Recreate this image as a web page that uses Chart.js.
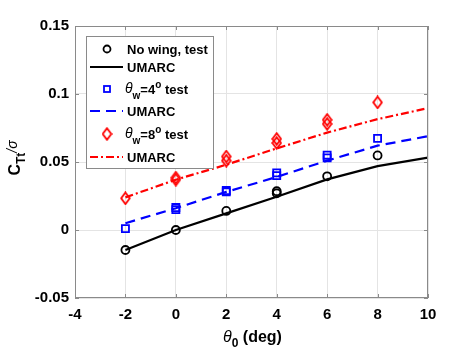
<!DOCTYPE html>
<html><head><meta charset="utf-8">
<script src="https://cdn.jsdelivr.net/npm/chart.js@4/dist/chart.umd.min.js"></script>
<style>html,body{margin:0;padding:0;background:#fff}#wrap{width:474px;height:355px}</style>
</head><body><div id="wrap"><canvas id="c" width="474" height="355"></canvas></div>
<script>
// ---- data ----
const xTicks = [-4, -2, 0, 2, 4, 6, 8, 10];
const yTicks = [-0.05, 0, 0.05, 0.1, 0.15];
const noWingTestX = [-2, 0, 2, 4, 4, 6, 8];
const noWingTestY = [-0.0147, 0.0, 0.014, 0.027, 0.0285, 0.0395, 0.0548];
const umarcX = [-2, 0, 2, 4, 6, 8, 10];
const noWingUmarcY = [-0.0147, 0.0, 0.0122, 0.0245, 0.0372, 0.047, 0.0532];
const w4TestX = [-2, 0, 0, 2, 2, 4, 4, 6, 6, 8];
const w4TestY = [0.001, 0.015, 0.0165, 0.028, 0.029, 0.040, 0.042, 0.053, 0.055, 0.0674];
const w4UmarcY = [0.005, 0.016, 0.028, 0.039, 0.051, 0.062, 0.069];
const w8TestX = [-2, 0, 0, 2, 2, 4, 4, 6, 6, 8];
const w8TestY = [0.0233, 0.037, 0.0385, 0.051, 0.054, 0.064, 0.067, 0.078, 0.081, 0.0938];
const w8UmarcY = [0.024, 0.037, 0.048, 0.060, 0.0716, 0.0815, 0.0896];

const pts = (xs, ys) => xs.map((x, i) => ({x: x, y: ys[i]}));

// custom diamond marker
function diamond(color) {
  const c = document.createElement('canvas');
  c.width = 11; c.height = 14;
  const g = c.getContext('2d');
  g.strokeStyle = color; g.lineWidth = 1.8;
  g.beginPath(); g.moveTo(5.5, 1.2); g.lineTo(9.8, 7); g.lineTo(5.5, 12.8); g.lineTo(1.2, 7); g.closePath(); g.stroke();
  return c;
}
const dia = diamond('#ff0000');

const FONT = '"Liberation Sans", Arial, sans-serif';

const datasets = [
  {label: 'No wing, test', data: pts(noWingTestX, noWingTestY), showLine: false, pointStyle: 'circle', pointRadius: 4, borderColor: '#000', backgroundColor: 'rgba(0,0,0,0)', pointBorderWidth: 1.8},
  {label: 'UMARC', data: pts(umarcX, noWingUmarcY), showLine: true, borderColor: '#000', borderWidth: 2.2, pointRadius: 0, fill: false},
  {label: 'w4 test', data: pts(w4TestX, w4TestY), showLine: false, pointStyle: 'rect', pointRadius: 5, borderColor: '#0000ff', backgroundColor: 'rgba(0,0,0,0)', pointBorderWidth: 1.8},
  {label: 'UMARC', data: pts(umarcX, w4UmarcY), showLine: true, borderColor: '#0000ff', borderWidth: 2.2, borderDash: [10, 6], pointRadius: 0, fill: false},
  {label: 'w8 test', data: pts(w8TestX, w8TestY), showLine: false, pointStyle: dia, pointRadius: 6, borderColor: '#ff0000', backgroundColor: 'rgba(0,0,0,0)'},
  {label: 'UMARC', data: pts(umarcX, w8UmarcY), showLine: true, borderColor: '#ff0000', borderWidth: 2.2, borderDash: [8, 3, 2, 3], pointRadius: 0, fill: false}
];

const decor = {
  id: 'decor',
  afterDraw(chart) {
    const ctx = chart.ctx, a = chart.chartArea;
    const xs = chart.scales.x, ys = chart.scales.y;
    ctx.save();
    // box
    ctx.strokeStyle = '#8a8a8a'; ctx.lineWidth = 1;
    ctx.strokeRect(a.left + 0.5, a.top + 0.5, a.right - a.left - 1, a.bottom - a.top - 1);
    // inward ticks
    ctx.beginPath();
    xTicks.forEach(v => { const p = Math.round(xs.getPixelForValue(v)) + 0.5;
      ctx.moveTo(p, a.bottom); ctx.lineTo(p, a.bottom - 4); ctx.moveTo(p, a.top); ctx.lineTo(p, a.top + 4); });
    yTicks.forEach(v => { const p = Math.round(ys.getPixelForValue(v)) + 0.5;
      ctx.moveTo(a.left, p); ctx.lineTo(a.left + 4, p); ctx.moveTo(a.right, p); ctx.lineTo(a.right - 4, p); });
    ctx.stroke();

    // x title: θ0 (deg)
    ctx.fillStyle = '#000'; ctx.textBaseline = 'alphabetic';
    const cx = (a.left + a.right) / 2;
    ctx.font = 'italic 16px ' + FONT;
    const wTh = ctx.measureText('θ').width;
    ctx.font = 'bold 12px ' + FONT;
    const wSub = ctx.measureText('0').width;
    ctx.font = 'bold 16px ' + FONT;
    const wRest = ctx.measureText(' (deg)').width;
    let x0 = cx - (wTh + wSub + wRest) / 2 + 1;
    const by = 342;
    ctx.font = 'italic 16px ' + FONT; ctx.textAlign = 'left';
    ctx.fillText('θ', x0, by);
    ctx.font = 'bold 12px ' + FONT; ctx.fillText('0', x0 + wTh, by + 5);
    ctx.font = 'bold 16px ' + FONT; ctx.fillText(' (deg)', x0 + wTh + wSub, by);

    // y title: C_Tt/σ rotated
    ctx.save();
    ctx.translate(20, 158); ctx.rotate(-Math.PI / 2);
    ctx.font = 'bold 16px ' + FONT; const wC = ctx.measureText('C').width;
    ctx.font = 'bold 12px ' + FONT; const wT = ctx.measureText('Tt').width;
    ctx.font = 'italic 14px ' + FONT; const wS = ctx.measureText('/σ').width;
    let y0 = -(wC + wT + wS) / 2;
    ctx.font = 'bold 16px ' + FONT; ctx.fillText('C', y0, 0);
    ctx.font = 'bold 12px ' + FONT; ctx.fillText('Tt', y0 + wC, 5);
    ctx.font = 'italic 14px ' + FONT; ctx.fillText('/σ', y0 + wC + wT, -3);
    ctx.restore();

    // legend
    const L = 86, T = 36, R = 213, B = 168;
    ctx.fillStyle = '#fff'; ctx.fillRect(L, T, R - L, B - T);
    ctx.strokeStyle = '#8a8a8a'; ctx.lineWidth = 1; ctx.strokeRect(L + 0.5, T + 0.5, R - L, B - T);
    const rows = [49, 67, 89, 111, 134, 157];
    const mx = 107, lx1 = 90, lx2 = 123, tx = 127;
    // row 1: circle
    ctx.strokeStyle = '#000'; ctx.lineWidth = 1.8;
    ctx.beginPath(); ctx.arc(mx, rows[0], 3.5, 0, Math.PI * 2); ctx.stroke();
    // row 2: solid line
    ctx.lineWidth = 2.2; ctx.beginPath(); ctx.moveTo(lx1, rows[1]); ctx.lineTo(lx2, rows[1]); ctx.stroke();
    // row 3: square
    ctx.strokeStyle = '#0000ff'; ctx.lineWidth = 1.8; ctx.strokeRect(mx - 3, rows[2] - 3, 6, 6);
    // row 4: dashed
    ctx.lineWidth = 2.2; ctx.setLineDash([10, 6]); ctx.beginPath(); ctx.moveTo(lx1, rows[3]); ctx.lineTo(lx2, rows[3]); ctx.stroke();
    ctx.setLineDash([]);
    // row 5: diamond
    ctx.drawImage(dia, mx - 5.5, rows[4] - 7);
    // row 6: dash-dot
    ctx.strokeStyle = '#ff0000'; ctx.lineWidth = 2.2; ctx.setLineDash([8, 3, 2, 3]);
    ctx.beginPath(); ctx.moveTo(lx1, rows[5]); ctx.lineTo(lx2, rows[5]); ctx.stroke(); ctx.setLineDash([]);

    ctx.fillStyle = '#000'; ctx.textBaseline = 'middle'; ctx.textAlign = 'left';
    ctx.font = 'bold 13px ' + FONT;
    ctx.fillText('No wing, test', tx, rows[0] + 1);
    ctx.fillText('UMARC', tx, rows[1] + 1);
    ctx.fillText('UMARC', tx, rows[3] + 1);
    ctx.fillText('UMARC', tx, rows[5] + 1);
    [[rows[2], '4'], [rows[4], '8']].forEach(([ry, d]) => {
      let x = tx - 2;
      ctx.font = 'italic 14px ' + FONT; ctx.fillText('θ', x, ry); x += ctx.measureText('θ').width;
      ctx.font = 'bold 10px ' + FONT; ctx.fillText('w', x, ry + 7); const ww = ctx.measureText('w').width;
      ctx.font = 'bold 13px ' + FONT; ctx.fillText('=' + d, x + ww, ry + 1); const w2 = ctx.measureText('=' + d).width;
      ctx.font = 'bold 10px ' + FONT; ctx.fillText('o', x + ww + w2, ry - 4); const wo = ctx.measureText('o').width;
      ctx.font = 'bold 13px ' + FONT; ctx.fillText(' test', x + ww + w2 + wo, ry + 1);
    });
    ctx.restore();
  }
};

new Chart(document.getElementById('c'), {
  type: 'scatter',
  data: {datasets: datasets},
  options: {
    responsive: false, animation: false, devicePixelRatio: 1,
    layout: {padding: {left: 0, right: 46, top: 26, bottom: 0}},
    plugins: {legend: {display: false}, tooltip: {enabled: false}, title: {display: false}},
    scales: {
      x: {
        type: 'linear', min: -4, max: 10,
        afterBuildTicks: s => { s.ticks = xTicks.map(v => ({value: v})); },
        afterFit: s => { s.height = 57; },
        grid: {color: '#e4e4e4', lineWidth: 1, drawTicks: false},
        border: {display: false},
        ticks: {color: '#000', padding: 8, font: {family: FONT, size: 15, weight: 'bold'}, maxRotation: 0, callback: v => String(v)}
      },
      y: {
        type: 'linear', min: -0.05, max: 0.15,
        afterBuildTicks: s => { s.ticks = yTicks.map(v => ({value: v})); },
        afterFit: s => { s.width = 75; },
        grid: {color: '#e4e4e4', lineWidth: 1, drawTicks: false},
        border: {display: false},
        ticks: {color: '#000', padding: 6, font: {family: FONT, size: 15, weight: 'bold'}, callback: v => String(Math.round(v * 100) / 100)}
      }
    }
  },
  plugins: [decor]
});
</script></body></html>
